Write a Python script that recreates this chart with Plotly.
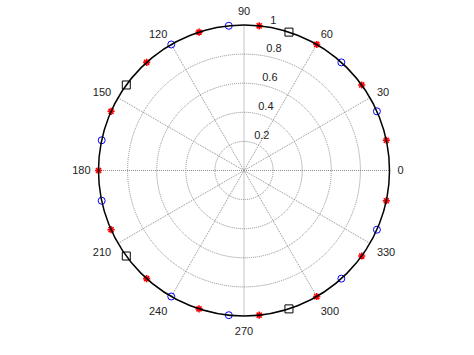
import plotly.graph_objects as go

# Data (angles in degrees, all on the unit circle)
red_theta = [12, 36, 60, 84, 108, 132, 156, 180, 204, 228, 252, 276, 300, 324, 348]
red_r = [1] * len(red_theta)
blue_theta = [24, 48, 96, 120, 168, 192, 240, 264, 312, 336]
blue_r = [1] * len(blue_theta)
square_theta = [72, 144, 216, 288]
square_r = [1] * len(square_theta)

angle_ticks = [0, 30, 60, 90, 120, 150, 180, 210, 240, 270, 300, 330]
radial_ticks = [0.2, 0.4, 0.6, 0.8, 1]
radial_labels = ["0.2", "0.4", "0.6", "0.8", "1"]
radial_label_angle = 82

FONT = "Liberation Sans, Arial, sans-serif"

fig = go.Figure()

# radial tick labels (MATLAB style, near 82 degrees)
fig.add_trace(go.Scatterpolar(
    r=radial_ticks,
    theta=[radial_label_angle] * len(radial_ticks),
    mode="text",
    text=["  " + s for s in radial_labels],
    textposition="top right",
    textfont=dict(family=FONT, size=11, color="#222"),
    hoverinfo="skip",
    cliponaxis=False,
    showlegend=False,
))

fig.add_trace(go.Scatterpolar(
    r=red_r, theta=red_theta, mode="markers",
    marker=dict(symbol="asterisk-open", size=6, color="red",
                line=dict(color="red", width=1.6)),
    cliponaxis=False,
    showlegend=False,
))
fig.add_trace(go.Scatterpolar(
    r=blue_r, theta=blue_theta, mode="markers",
    marker=dict(symbol="circle-open", size=7, color="blue",
                line=dict(color="blue", width=1)),
    cliponaxis=False,
    showlegend=False,
))
fig.add_trace(go.Scatterpolar(
    r=square_r, theta=square_theta, mode="markers",
    marker=dict(symbol="square-open", size=8, color="black",
                line=dict(color="black", width=1)),
    cliponaxis=False,
    showlegend=False,
))

fig.update_layout(
    width=474, height=355,
    margin=dict(l=98, r=84, t=25, b=39),
    paper_bgcolor="white",
    plot_bgcolor="white",
    showlegend=False,
    polar=dict(
        bgcolor="white",
        domain=dict(x=[0, 1], y=[0, 1]),
        radialaxis=dict(
            range=[0, 1],
            tickvals=radial_ticks,
            showticklabels=False,
            ticks="",
            showline=False,
            gridcolor="#8c8c8c",
            griddash="1px,1px",
            gridwidth=0.8,
        ),
        angularaxis=dict(
            direction="counterclockwise",
            rotation=0,
            tickvals=angle_ticks,
            ticktext=[str(a) for a in angle_ticks],
            ticks="outside",
            ticklen=5,
            tickcolor="rgba(0,0,0,0)",
            showline=True,
            linecolor="black",
            linewidth=1.5,
            gridcolor="#8c8c8c",
            griddash="1px,1px",
            gridwidth=0.8,
            tickfont=dict(family=FONT, size=11, color="#222"),
        ),
    ),
)

fig.write_html("out.html")
